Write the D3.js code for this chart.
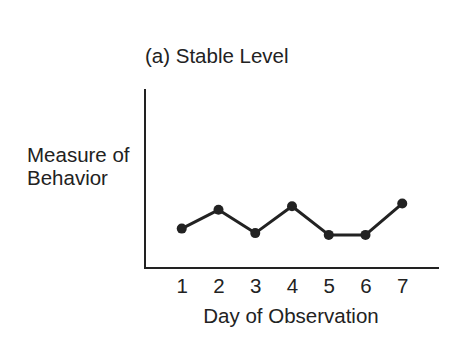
<!DOCTYPE html>
<html>
<head>
<meta charset="utf-8">
<script src="https://cdn.jsdelivr.net/npm/d3@7"></script>
<style>
  html, body { margin: 0; padding: 0; background: #fff; }
  svg text { font-family: "Liberation Sans", Arial, Helvetica, sans-serif; fill: #222; }
</style>
</head>
<body>
<div id="chart"></div>
<script>
var days = [1, 2, 3, 4, 5, 6, 7];
var behavior = [2.2, 3.25, 1.95, 3.45, 1.85, 1.85, 3.6];
var title = '(a) Stable Level';
var xLabel = 'Day of Observation';
var yLabel = ['Measure of', 'Behavior'];

var width = 474, height = 353;
var fs = 20.5;
var svg = d3.select('#chart').append('svg').attr('width', width).attr('height', height);

var x = d3.scaleLinear().domain([0, 8]).range([145, 439]);
var y = d3.scaleLinear().domain([0, 10]).range([268, 89]);
var ink = '#222';

// axes as plain L-shape
svg.append('line').attr('x1', x(0)).attr('x2', x(0)).attr('y1', y(10)).attr('y2', y(0))
  .attr('stroke', ink).attr('stroke-width', 2);
svg.append('line').attr('x1', x(0) - 1).attr('x2', x(8)).attr('y1', y(0)).attr('y2', y(0))
  .attr('stroke', ink).attr('stroke-width', 2);

// tick labels only
var xAxis = svg.append('g').attr('transform', 'translate(0,' + y(0) + ')')
  .call(d3.axisBottom(x).tickValues(days).tickSize(0).tickPadding(10).tickFormat(d3.format('d')));
xAxis.select('.domain').remove();
xAxis.selectAll('text').attr('font-size', fs).attr('fill', ink)
  .style('font-family', '"Liberation Sans", Arial, sans-serif');

// line + dots
var pts = days.map(function (d, i) { return { day: d, v: behavior[i] }; });
svg.append('path').datum(pts)
  .attr('d', d3.line().x(function (d) { return x(d.day); }).y(function (d) { return y(d.v); }))
  .attr('fill', 'none').attr('stroke', ink).attr('stroke-width', 3).attr('stroke-linejoin', 'round');
svg.selectAll('circle.pt').data(pts).enter().append('circle').attr('class', 'pt')
  .attr('cx', function (d) { return x(d.day); }).attr('cy', function (d) { return y(d.v); })
  .attr('r', 5).attr('fill', ink);

// texts
svg.append('text').attr('x', 145).attr('y', 63).attr('font-size', fs).text(title);
svg.append('text').attr('x', 291).attr('y', 323).attr('text-anchor', 'middle').attr('font-size', fs).text(xLabel);
yLabel.forEach(function (t, i) {
  svg.append('text').attr('x', 27).attr('y', 162 + i * 23).attr('font-size', fs).text(t);
});
</script>
</body>
</html>
